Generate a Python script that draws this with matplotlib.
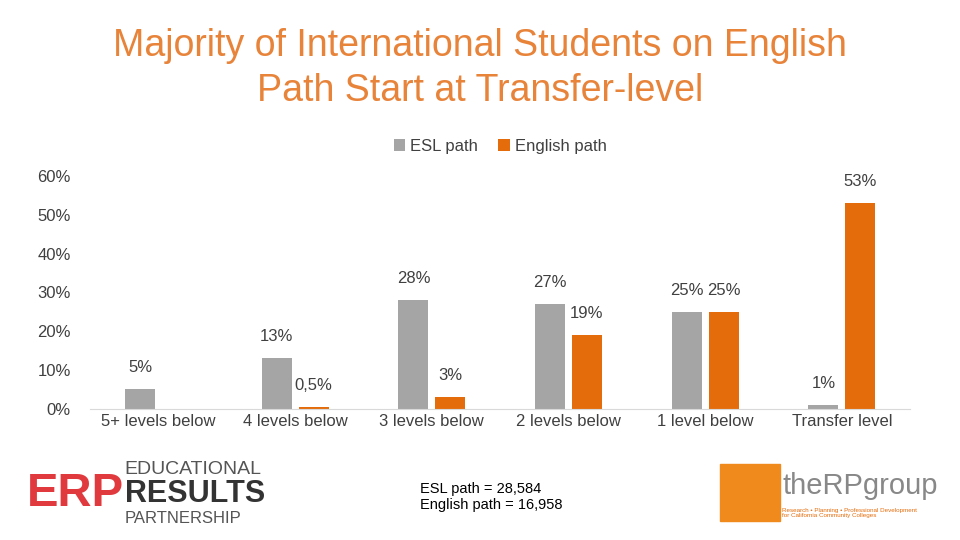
import matplotlib.pyplot as plt
import numpy as np

plt.rcParams['font.family'] = ['Liberation Sans', 'DejaVu Sans']

categories = ["5+ levels below", "4 levels below", "3 levels below",
              "2 levels below", "1 level below", "Transfer level"]
esl = [5, 13, 28, 27, 25, 1]
eng = [0, 0.5, 3, 19, 25, 53]
esl_labels = ["5%", "13%", "28%", "27%", "25%", "1%"]
eng_labels = ["", "0,5%", "3%", "19%", "25%", "53%"]
yticks = [0, 10, 20, 30, 40, 50, 60]

grey = "#A5A5A5"
orange = "#E46C0A"
txt = "#404040"

fig = plt.figure(figsize=(9.6, 5.4), dpi=100)
ax = fig.add_axes([0.094, 0.243, 0.854, 0.431])
x = np.arange(len(categories))
w = 0.22
b1 = ax.bar(x - 0.135, esl, w, color=grey, label="ESL path")
b2 = ax.bar(x + 0.135, eng, w, color=orange, label="English path")
for bars, labs in ((b1, esl_labels), (b2, eng_labels)):
    for bar, lab in zip(bars, labs):
        if lab:
            ax.annotate(lab, (bar.get_x() + bar.get_width() / 2, bar.get_height()),
                        xytext=(0, 10), textcoords="offset points", ha="center",
                        va="bottom", fontsize=12, color=txt)

ax.set_ylim(0, 60)
ax.set_xlim(-0.5, 5.5)
ax.set_yticks(yticks)
ax.set_yticklabels([f"{v}%" for v in yticks], fontsize=12, color=txt)
ax.set_xticks(x)
ax.set_xticklabels(categories, fontsize=12, color=txt)
ax.tick_params(length=0)
ax.tick_params(axis="y", pad=14)
for s in ["top", "right", "left"]:
    ax.spines[s].set_visible(False)
ax.spines["bottom"].set_color("#D9D9D9")
ax.legend(loc="lower center", bbox_to_anchor=(0.5, 1.03), ncol=2, frameon=False,
          fontsize=12, handlelength=0.7, handleheight=0.7, columnspacing=1.2,
          handletextpad=0.3, labelcolor=txt)

fig.text(0.5, 0.873, "Majority of International Students on English\nPath Start at Transfer-level",
         ha="center", va="center", fontsize=27, color="#E8833A", linespacing=1.35)
fig.text(0.438, 0.08, "ESL path = 28,584\nEnglish path = 16,958", fontsize=10.5,
         color="black", va="center")

# logos as text
fig.text(0.028, 0.085, "ERP", fontsize=34, fontweight="bold", color="#E03A3E",
         va="center")
fig.text(0.13, 0.13, "EDUCATIONAL", fontsize=14, color="#555555", va="center")
fig.text(0.13, 0.085, "RESULTS", fontsize=22, fontweight="bold", color="#333333", va="center")
fig.text(0.13, 0.04, "PARTNERSHIP", fontsize=12, color="#555555", va="center")
fig.patches.append(plt.Rectangle((0.75, 0.035), 0.062, 0.105, transform=fig.transFigure,
                                 color="#F08A1C", figure=fig))
fig.text(0.815, 0.1, "theRPgroup", fontsize=21, color="#888888", va="center")
fig.text(0.815, 0.05, "Research • Planning • Professional Development\nfor California Community Colleges",
         fontsize=4.5, color="#E46C0A", va="center")

fig.savefig("out.png", dpi=100)
